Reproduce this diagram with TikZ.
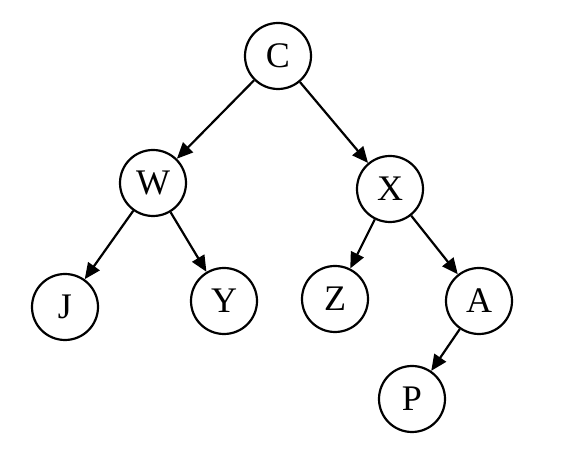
\documentclass[tikz,border=0pt]{standalone}
\usepackage{fontspec}
\setmainfont{Liberation Serif}
\usetikzlibrary{arrows.meta}
\begin{document}
\begin{tikzpicture}[x=0.5pt,y=-0.5pt,
	vertex/.style={draw,circle,line width=1.1pt,minimum size=33pt,inner sep=0pt,font=\fontsize{18}{18}\selectfont},
	edge/.style={-{Triangle[length=8pt,width=7pt]},line width=1.1pt}]
	\useasboundingbox (0,0) rectangle (562,458);
	\node[vertex] (C) at (278,56) {C};
	\node[vertex] (W) at (153,183) {W};
	\node[vertex] (X) at (390,189) {X};
	\node[vertex] (J) at (65,307) {J};
	\node[vertex] (Y) at (224,301) {Y};
	\node[vertex] (Z) at (335,299) {Z};
	\node[vertex] (A) at (479,301) {A};
	\node[vertex] (P) at (412,399) {P};
	\draw[edge] (C) -- (W);
	\draw[edge] (C) -- (X);
	\draw[edge] (W) -- (J);
	\draw[edge] (W) -- (Y);
	\draw[edge] (X) -- (Z);
	\draw[edge] (X) -- (A);
	\draw[edge] (A) -- (P);
	\end{tikzpicture}
\end{document}
